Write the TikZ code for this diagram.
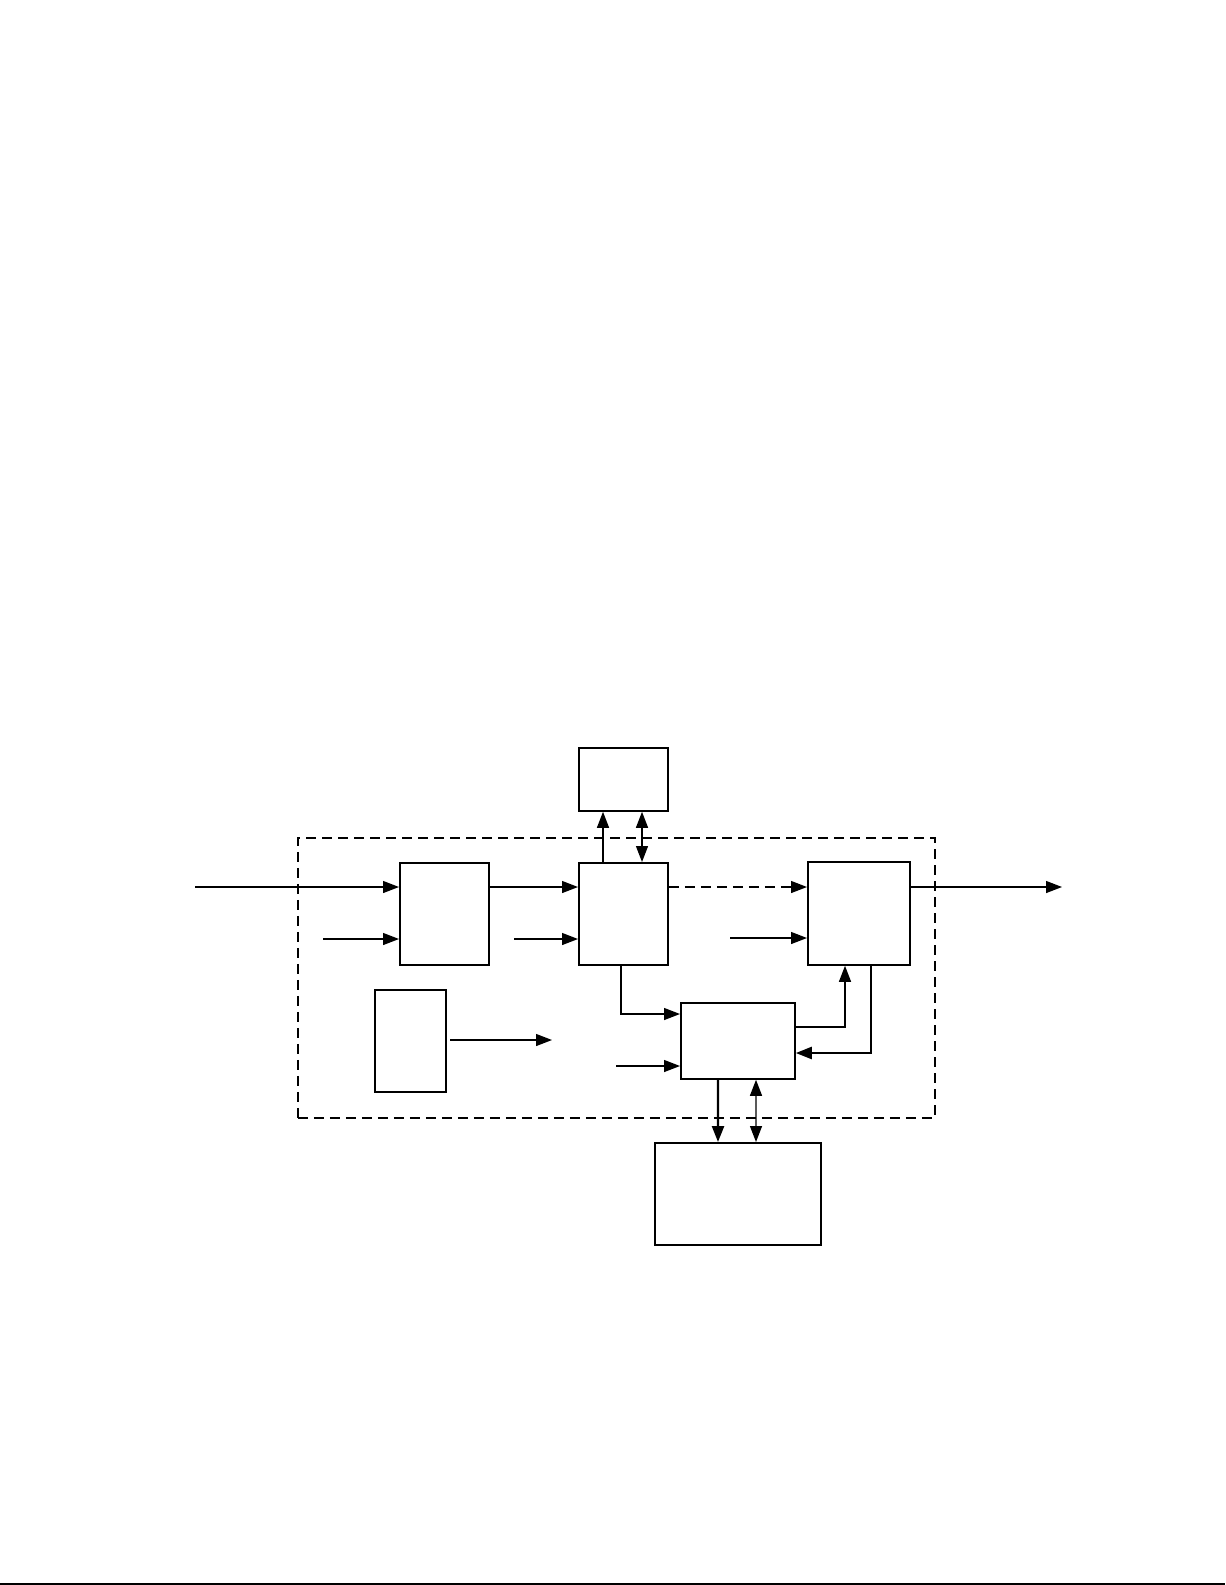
\documentclass[tikz,border=0pt]{standalone}
\usetikzlibrary{arrows.meta,calc}
\begin{document}
\begin{tikzpicture}[x=1bp,y={(0bp,-1bp)},
  box/.style={draw,line width=1.8bp,inner sep=0pt,anchor=north west},
  arr/.style={line width=1.3bp,-{Triangle[length=16bp,width=12bp]}},
  darr/.style={line width=1.3bp,{Triangle[length=16bp,width=12bp]}-{Triangle[length=16bp,width=12bp]}},
  tarr/.style={line width=2.4bp,-{Triangle[length=16bp,width=12bp]}},
  frame/.style={draw,line width=1.6bp,dash pattern=on 10bp off 6bp}]
\useasboundingbox (0,0) rectangle (1225,1585);
% dashed frame
\node[frame,inner sep=0pt,anchor=north west,minimum width=637bp,minimum height=280bp] (frm) at (297,837) {};
% boxes
\node[box,minimum width=89bp,minimum height=63bp] (T) at (578,747) {};
\node[box,minimum width=89bp,minimum height=102bp] (A) at (399,862) {};
\node[box,minimum width=89bp,minimum height=102bp] (B) at (578,862) {};
\node[box,minimum width=102bp,minimum height=103bp] (D) at (807,861) {};
\node[box,minimum width=71bp,minimum height=102bp] (E) at (374,989) {};
\node[box,minimum width=114bp,minimum height=76bp] (C) at (680,1002) {};
\node[box,minimum width=166bp,minimum height=102bp] (F) at (654,1142) {};
% free ends
\coordinate (in1) at (195,887);
\coordinate (in2) at (323,939);
\coordinate (in3) at (514,939);
\coordinate (in4) at (730,938);
\coordinate (in5) at (616,1066);
\coordinate (out1) at (1062,887);
\coordinate (e1) at (450,1040);
\coordinate (e2) at (552,1040);
% connectors
\draw[arr] (in1) -- (in1 -| A.west);
\draw[arr] (in2) -- (in2 -| A.west);
\draw[arr] (A.east |- in1) -- (B.west |- in1);
\draw[arr] (in3) -- (in3 -| B.west);
\draw[arr] ([xshift=25bp]B.north west) -- ([xshift=25bp]T.south west);
\draw[darr] ([xshift=64bp]B.north west) -- ([xshift=64bp]T.south west);
\draw[arr,dash pattern=on 10bp off 6bp] (B.east |- in1) -- (D.west |- in1);
\draw[arr] (in4) -- (in4 -| D.west);
\draw[arr] (D.east |- in1) -- (out1);
\draw[arr] (e1) -- (e2);
\draw[arr] ([xshift=43bp]B.south west) |- ([yshift=-12bp]C.north west);
\draw[arr] (in5) -- (in5 -| C.west);
\draw[arr] ([yshift=-25bp]C.north east) -| ([xshift=38bp]D.south west);
\draw[tarr] ([xshift=64bp]D.south west) |- ([yshift=-51bp]C.north east);
\draw[tarr] ([xshift=38bp]C.south west) -- ([xshift=64bp]F.north west);
\draw[darr] ([xshift=76bp]C.south west) -- ([xshift=102bp]F.north west);
% bottom rule
\draw[line width=2bp] (0,1584) -- (1225,1584);
\end{tikzpicture}
\end{document}
